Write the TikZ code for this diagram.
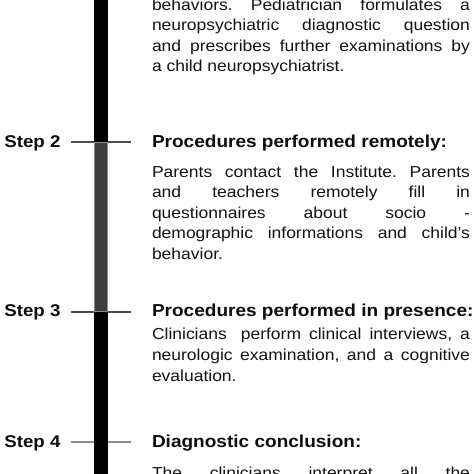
\documentclass[tikz,border=0pt]{standalone}
\usepackage{fontspec}
\setmainfont{Liberation Sans}[FakeStretch=1.1]
\newcommand\jline[1]{\makebox[318pt][s]{#1}}
\begin{document}
\frenchspacing
\begin{tikzpicture}[x=1pt,y=-1pt,
  bodytxt/.style={anchor=base west, inner sep=0pt, outer sep=0pt, font=\fontsize{15.9}{19}\selectfont, text=black!92},
  headtxt/.style={anchor=base west, inner sep=0pt, outer sep=0pt, font=\fontsize{17.3}{20}\selectfont\bfseries, text=black!95},
  steplbl/.style={anchor=base east, inner sep=0pt, outer sep=0pt, font=\fontsize{17}{20}\selectfont\bfseries, text=black!95},
  tickline/.style={line width=1.2pt, draw=black!70},
  ticklight/.style={line width=1.2pt, draw=black!45}]
\useasboundingbox (0,0) rectangle (474,474);
\clip (0,0) rectangle (474,474);
\fill[white] (0,0) rectangle (474,474);
% ticks
\coordinate (t2l) at (71,142); \coordinate (t2r) at (131,142);
\coordinate (t3l) at (71,312); \coordinate (t3r) at (131,312);
\coordinate (t4l) at (71,442); \coordinate (t4r) at (131,442);
\draw[tickline] (t2l) -- (t2r);
\draw[tickline] (t3l) -- (t3r);
\draw[ticklight] (t4l) -- (t4r);
% bar
\fill[black] (94,-5) rectangle (108,480);
\path[fill=black!76, draw=black!45, line width=0.7pt] (94.35,142.5) rectangle (107.65,311.5);
\draw[tickline] (t2l) -- (94,142) (108,142) -- (t2r);
\draw[tickline] (t3l) -- (94,312) (108,312) -- (t3r);
% step labels
\node[steplbl] (s2) at (60.5,147) {Step 2};
\node[steplbl] (s3) at (60.5,316) {Step 3};
\node[steplbl] (s4) at (60.5,447) {Step 4};
% step 1 body (cut)
\node[bodytxt] (b1a) at (152,10) {\jline{behaviors. Pediatrician formulates a}};
\node[bodytxt] (b1b) at (152,30.5) {\jline{neuropsychiatric diagnostic question}};
\node[bodytxt] (b1c) at (152,51) {\jline{and prescribes further examinations by}};
\node[bodytxt] (b1d) at (152,71.5) {a child neuropsychiatrist.};
% step 2
\node[headtxt] (h2) at (152,147) {Procedures performed remotely:};
\node[bodytxt] (b2a) at (152,177) {\jline{Parents contact the Institute. Parents}};
\node[bodytxt] (b2b) at (152,197.5) {\jline{and teachers remotely fill in}};
\node[bodytxt] (b2c) at (152,218) {\jline{questionnaires about socio -}};
\node[bodytxt] (b2d) at (152,238.5) {\jline{demographic informations and child’s}};
\node[bodytxt] (b2e) at (152,259) {behavior.};
% step 3
\node[headtxt] (h3) at (152,316) {Procedures performed in presence:};
\node[bodytxt] (b3a) at (152,339) {\jline{Clinicians\hspace{6pt} perform clinical interviews, a}};
\node[bodytxt] (b3b) at (152,360) {\jline{neurologic examination, and a cognitive}};
\node[bodytxt] (b3c) at (152,381) {evaluation.};
% step 4
\node[headtxt] (h4) at (152,447) {Diagnostic conclusion:};
\node[bodytxt] (b4a) at (152,478) {\jline{The clinicians interpret all the}};
\end{tikzpicture}
\end{document}
